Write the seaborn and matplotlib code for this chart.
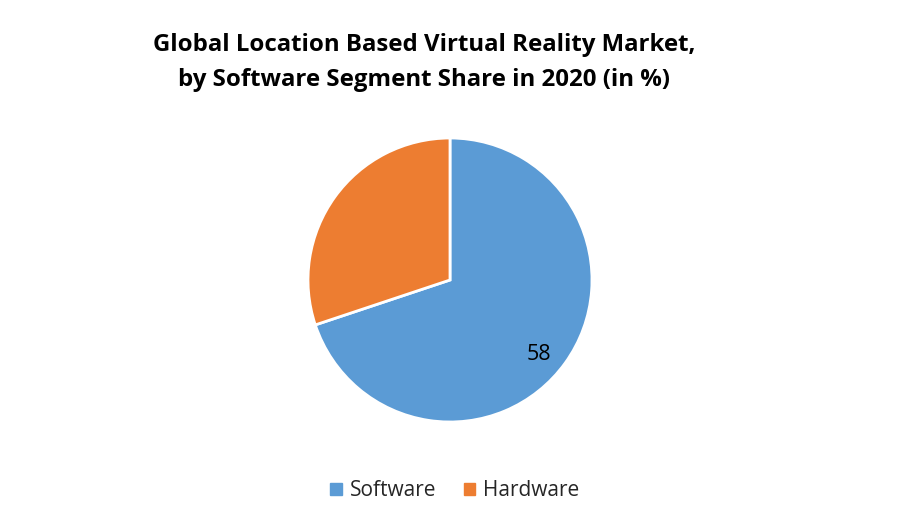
import matplotlib
matplotlib.use("Agg")
import matplotlib.pyplot as plt
import seaborn as sns
from matplotlib.patches import Patch

categories = ["Software", "Hardware"]
values = [58, 25]
colors = ["#5B9BD5", "#ED7D31"]
shown_labels = ["58", ""]
title_lines = ["Global Location Based Virtual Reality Market,",
               "by Software Segment Share in 2020 (in %)"]

sns.set_theme(style="white")
plt.rcParams['font.family'] = ['Open Sans', 'DejaVu Sans']

W, H = 900, 526
fig = plt.figure(figsize=(W / 100, H / 100), dpi=100)
fig.patch.set_facecolor("white")

cx, cy, r = 450, 280, 142
ax = fig.add_axes([(cx - r) / W, (H - cy - r) / H, 2 * r / W, 2 * r / H])
wedges, texts = ax.pie(values, colors=colors, startangle=90, counterclock=False,
                       labels=shown_labels, labeldistance=0.8,
                       wedgeprops=dict(edgecolor="white", linewidth=2),
                       textprops=dict(fontsize=15.5, color="black"))
for t in texts:
    t.set_horizontalalignment("center")
    t.set_verticalalignment("center")
    x, y = t.get_position()
    t.set_position((x - 0.02, y - 0.055))
ax.set_xlim(-1, 1)
ax.set_ylim(-1, 1)
ax.set_aspect("equal")
ax.axis("off")

fig.text(424 / W, 1 - 45 / H, title_lines[0], ha="center", va="center",
         fontsize=17.3, fontweight="bold", color="black")
fig.text(424 / W, 1 - 80 / H, title_lines[1], ha="center", va="center",
         fontsize=17.3, fontweight="bold", color="black")

handles = [Patch(facecolor=c, edgecolor=c) for c in colors]
fig.legend(handles, categories, loc="center", bbox_to_anchor=(455 / W, 1 - 491 / H),
           ncol=2, frameon=False, fontsize=15, handlelength=0.55, handleheight=0.55,
           handletextpad=0.4, columnspacing=1.3)

fig.savefig("out.png", dpi=100, facecolor="white")
